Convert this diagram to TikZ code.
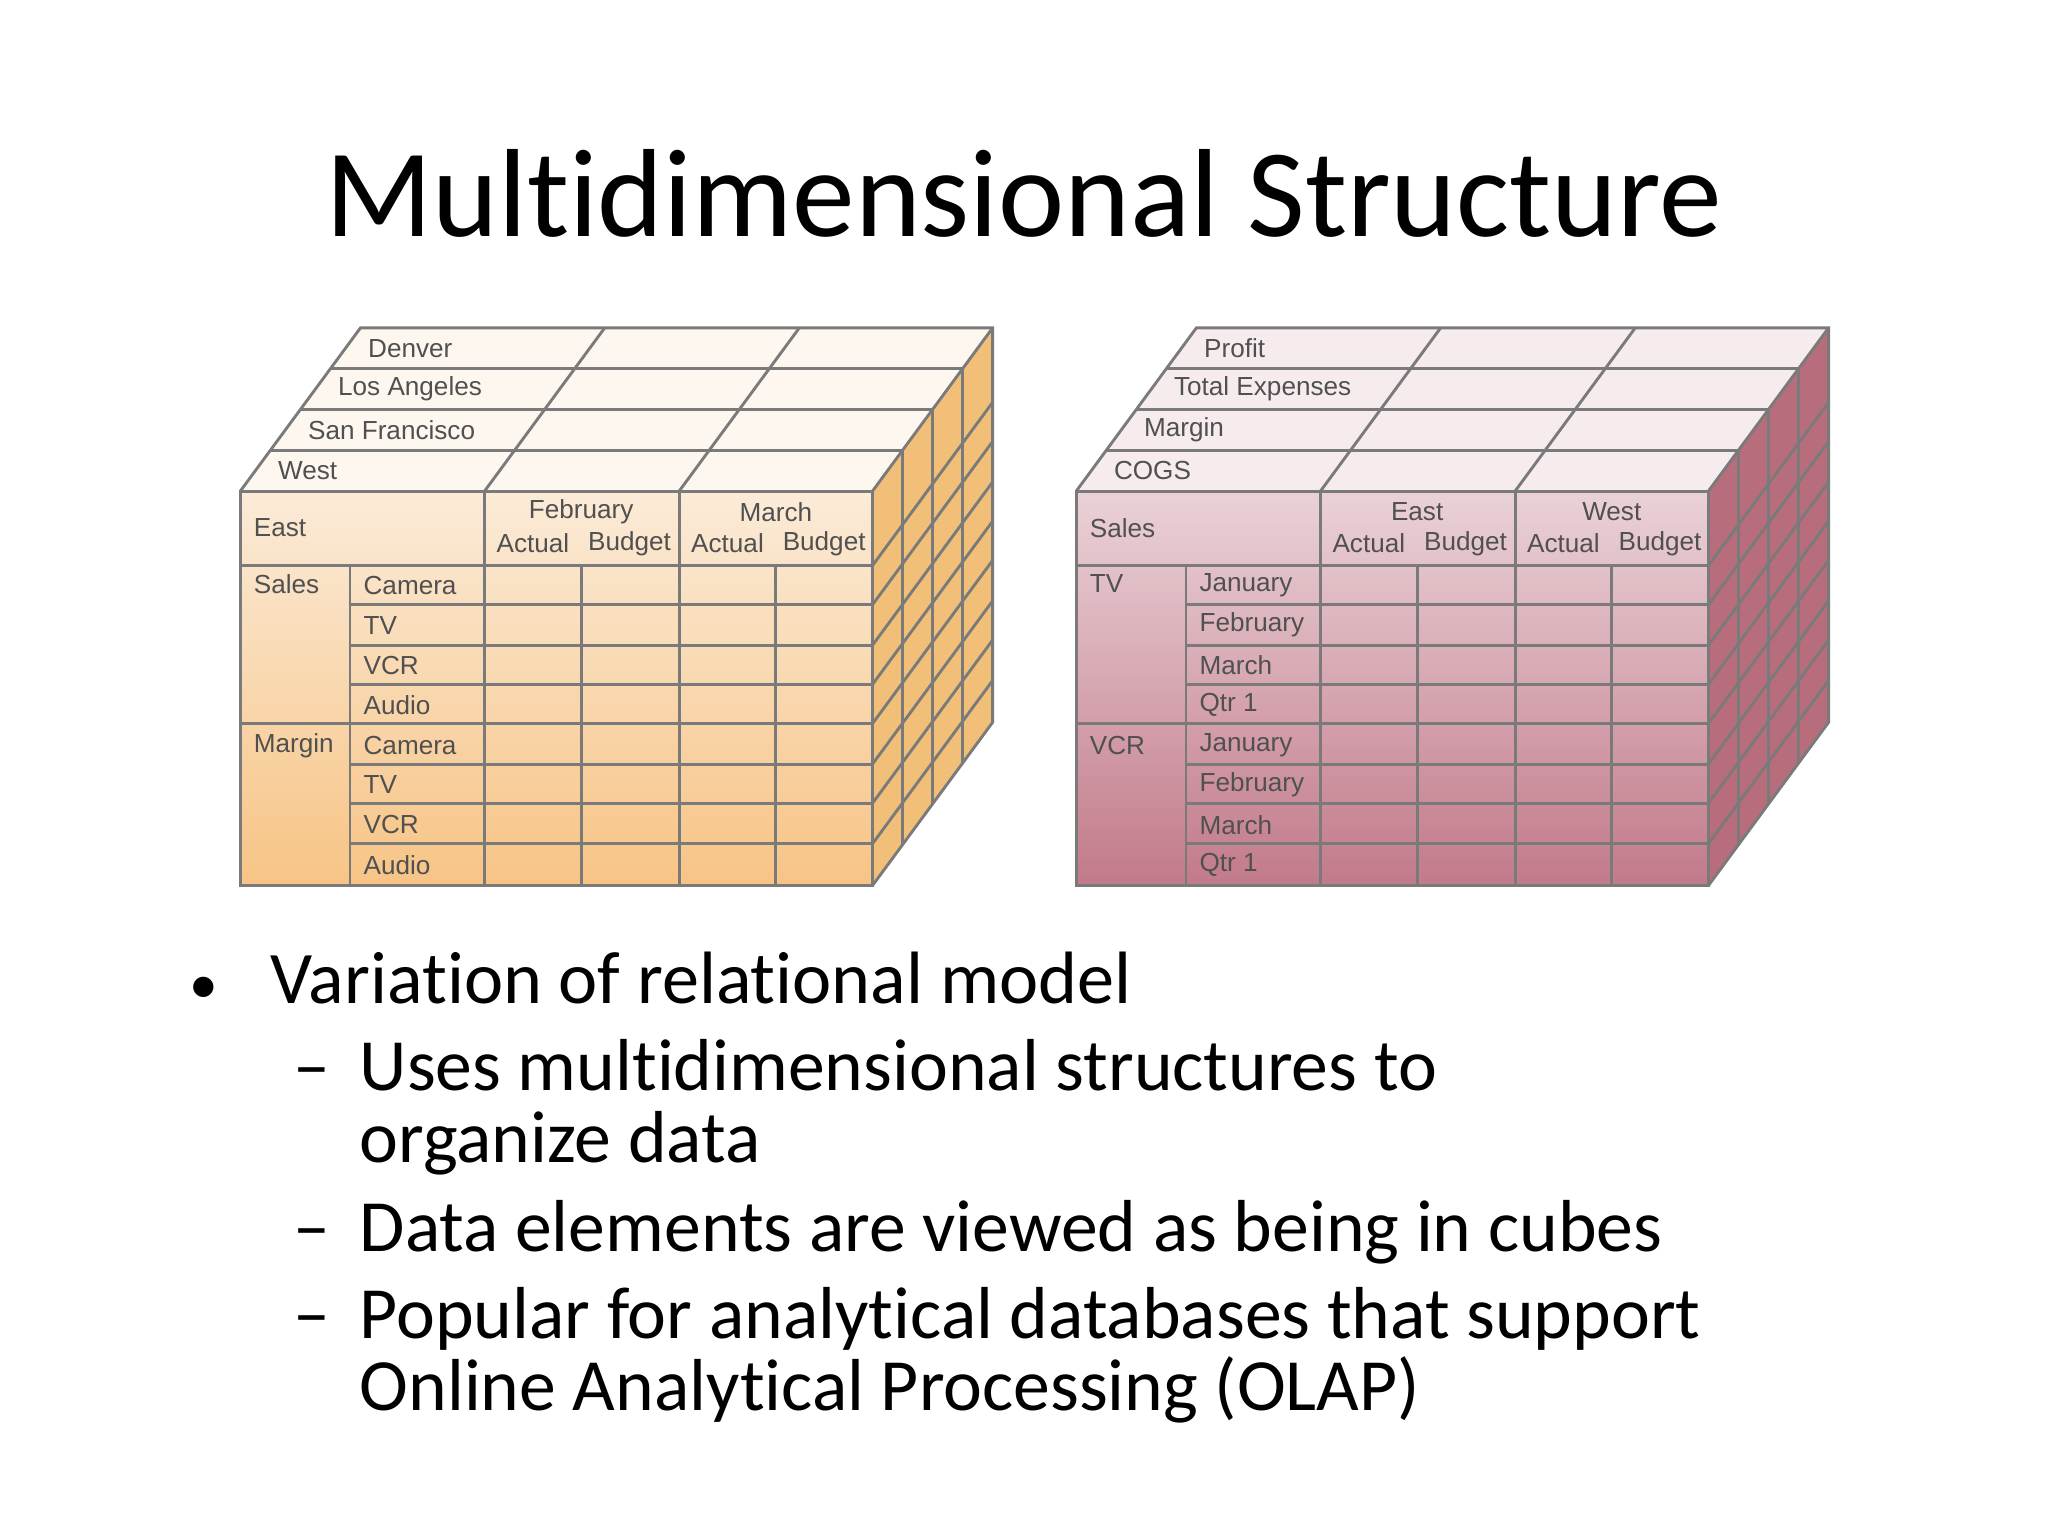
\documentclass[tikz,border=0pt]{standalone}
\usepackage{fontspec}
\setmainfont[Ligatures=NoCommon]{Carlito}
\newfontfamily\arialf{Liberation Sans}
\definecolor{ctxt}{HTML}{505050}
\definecolor{cline}{HTML}{7A7A7A}
\definecolor{ofront}{HTML}{FBEBD8}
\definecolor{ofrontb}{HTML}{F7C485}
\definecolor{otop}{HTML}{FDF7F0}
\definecolor{oside}{HTML}{F1BF78}
\definecolor{pfront}{HTML}{EAD2D7}
\definecolor{pfrontb}{HTML}{C27A8A}
\definecolor{ptop}{HTML}{F6ECEE}
\definecolor{pside}{HTML}{B86D7D}
\tikzset{
  grid/.style={draw=cline, line width=1.1pt},
  ct/.style={font=\arialf\fontsize{10}{11}\selectfont, text=ctxt, inner sep=0pt},
  title/.style={font=\fontsize{48}{54}\selectfont, inner sep=0pt},
  b1/.style={font=\fontsize{28.4}{32}\selectfont, inner sep=0pt, anchor=base west},
  b2/.style={font=\fontsize{28.2}{32}\selectfont, inner sep=0pt, anchor=base west},
}
\newcommand\mycube[4]{%
  \shade[top color=#1, bottom color=#2] (0,376) rectangle (484,678);
  \fill[#3] (0,376)--(484,376)--(576,251)--(92,251)--cycle;
  \fill[#4] (484,376)--(576,251)--(576,553)--(484,678)--cycle;
  \draw[grid] (0,376) rectangle (484,678);
  \draw[grid] (0,376)--(92,251)--(576,251)--(576,553)--(484,678);
  \draw[grid] (484,376)--(576,251);
  \foreach \y in {433,554} \draw[grid] (0,\y)--(484,\y);
  \foreach \y in {463,494,524,585,615,646} \draw[grid] (84,\y)--(484,\y);
  \foreach \x in {84,261,410} \draw[grid] (\x,433)--(\x,678);
  \foreach \x in {187,336} \draw[grid] (\x,376)--(\x,678);
  \foreach \k in {1,2,3} {
    \draw[grid] (23*\k,376-31.25*\k)--(484+23*\k,376-31.25*\k)--(484+23*\k,678-31.25*\k);
  }
  \foreach \x in {187,336} \draw[grid] (\x,376)--(\x+92,251);
  \foreach \y in {433,463,494,524,554,585,615,646} \draw[grid] (484,\y)--(576,\y-125);
}
\begin{document}
\begin{tikzpicture}[x=0.5pt,y=-0.5pt]
\useasboundingbox (0,0) rectangle (1568,1176);
\fill[white] (0,0) rectangle (1568,1176);
\node[title] (t) at (784,148) {Multidimensional Structure};
% left cube
\begin{scope}[xshift=92pt]
\mycube{ofront}{ofrontb}{otop}{oside}
\foreach \k/\lab in {1/West,2/San Francisco,3/Los Angeles,4/Denver}
  \node[ct,anchor=west] at ({(\k-0.5)*23+17},{376-(\k-0.5)*31.25}) {\lab};
\node[ct,anchor=west] (e) at (10,404) {East};
\node[ct] (f) at (261,392) {February};
\node[ct] (m) at (410,392) {March};
\foreach \x in {224,373} \node[ct] at (\x,416) {Actual};
\foreach \x in {298,447} \node[ct] at (\x,416) {Budget};
\node[ct,anchor=west] (s) at (10,447) {Sales};
\node[ct,anchor=west] (g) at (10,571) {Margin};
\foreach \i/\lab in {0/Camera,1/TV,2/VCR,3/Audio,4/Camera,5/TV,6/VCR,7/Audio}
  \node[ct,anchor=west] at (94,{448+30.6*\i}) {\lab};
\end{scope}
% right cube
\begin{scope}[xshift=412pt]
\mycube{pfront}{pfrontb}{ptop}{pside}
\foreach \k/\lab in {1/COGS,2/Margin,3/Total Expenses,4/Profit}
  \node[ct,anchor=west] at ({(\k-0.5)*23+17},{376-(\k-0.5)*31.25}) {\lab};
\node[ct,anchor=west] at (10,404) {Sales};
\node[ct] at (261,392) {East};
\node[ct] at (410,392) {West};
\foreach \x in {224,373} \node[ct] at (\x,416) {Actual};
\foreach \x in {298,447} \node[ct] at (\x,416) {Budget};
\node[ct,anchor=west] at (10,447) {TV};
\node[ct,anchor=west] at (10,571) {VCR};
\foreach \i/\lab in {0/January,1/February,2/March,3/Qtr 1,4/January,5/February,6/March,7/Qtr 1}
  \node[ct,anchor=west] at (94,{448+30.6*\i}) {\lab};
\end{scope}
% bullets
\node[b1] (bu) at (145,768) {\fontsize{22}{24}\selectfont •};
\node[b1] (l1) at (207,768) {Variation of relational model};
\node[b2] at (224,835) {–};
\node[b2] (l2) at (275,835) {Uses multidimensional structures to};
\node[b2] (l3) at (275,890) {organize data};
\node[b2] at (224,958) {–};
\node[b2] (l4) at (275,958) {Data elements are viewed as being in cubes};
\node[b2] at (224,1025) {–};
\node[b2] (l5) at (275,1025) {Popular for analytical databases that support};
\node[b2] (l6) at (275,1080) {Online Analytical Processing (OLAP)};
\end{tikzpicture}
\end{document}
